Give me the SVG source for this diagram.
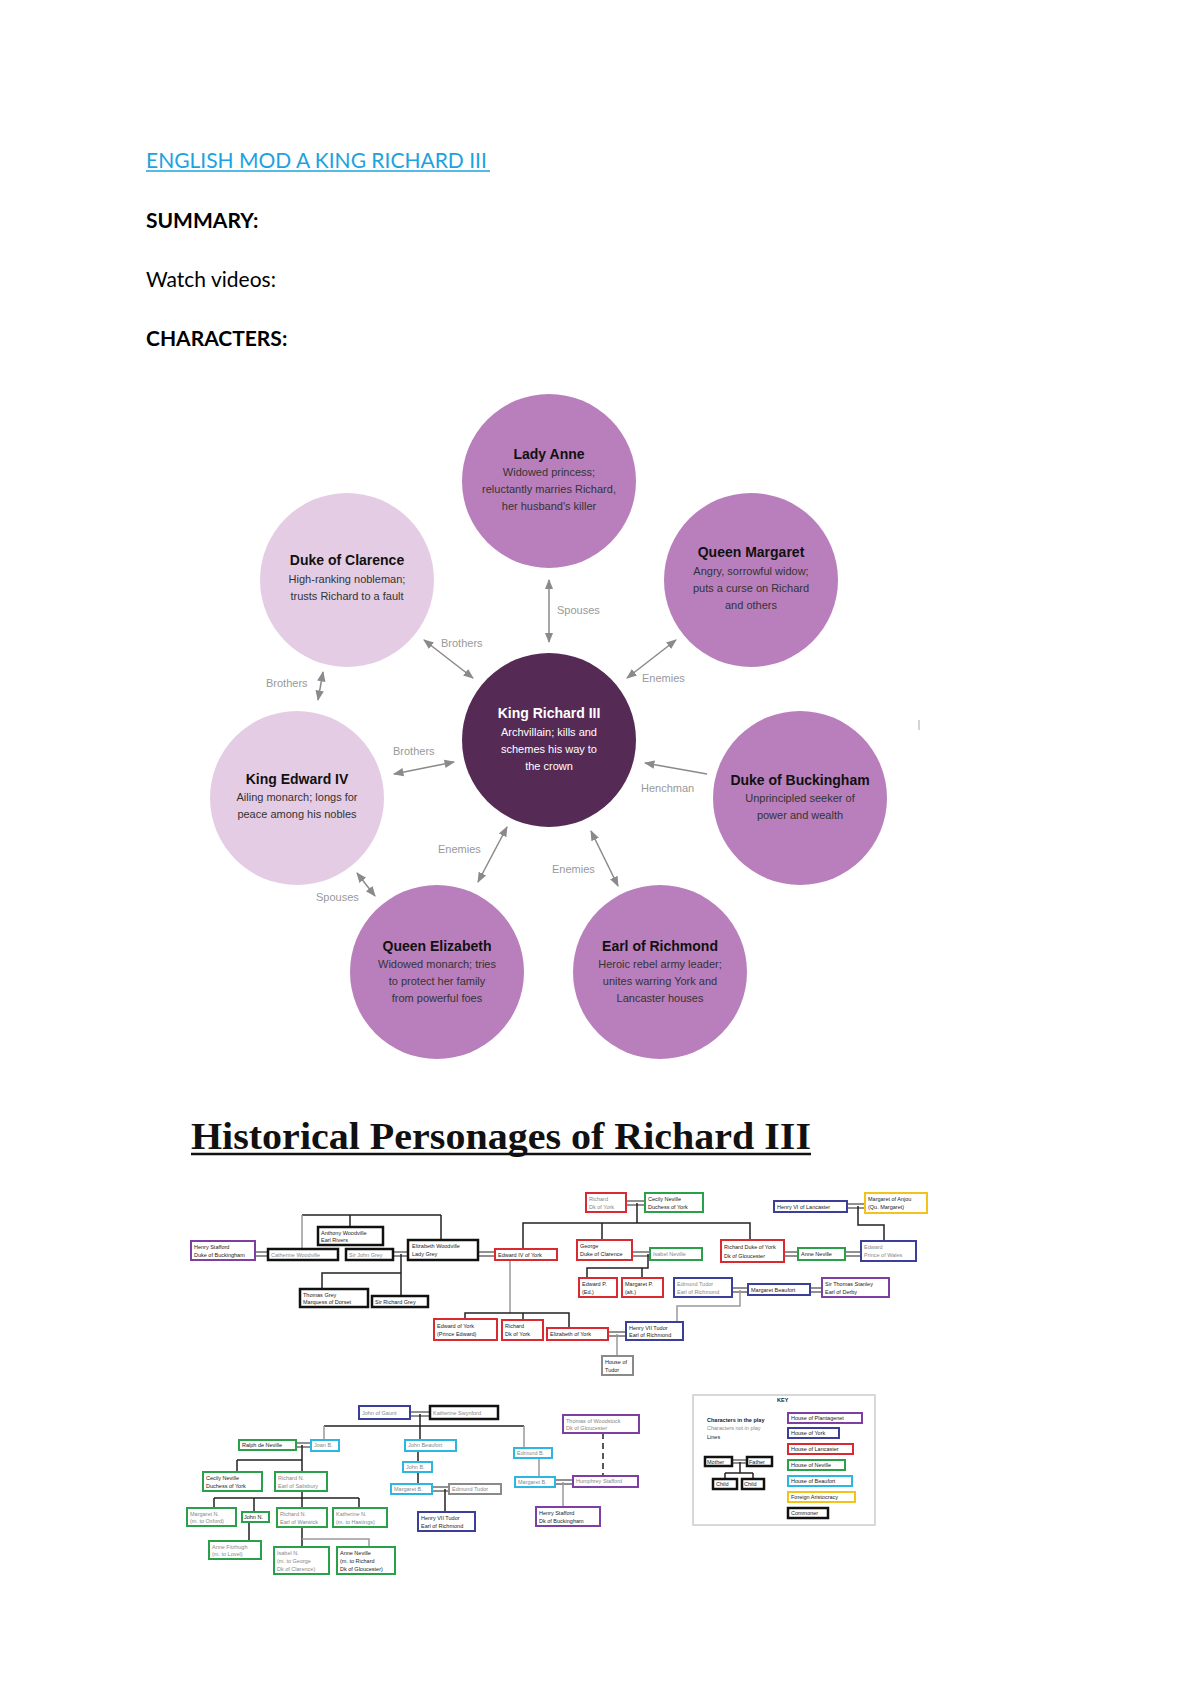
<svg xmlns="http://www.w3.org/2000/svg" width="1200" height="1696" viewBox="0 0 1200 1696">
<defs>
<marker id="ah" viewBox="0 0 10 10" refX="9" refY="5" markerWidth="7" markerHeight="7" orient="auto-start-reverse"><path d="M0,1 L10,5 L0,9 z" fill="#8a8a8a"/></marker>
<style>
.h{font-family:Lato,"Liberation Sans",sans-serif;font-size:21px;fill:#000}
.hb{font-weight:bold}
.cn{font-family:"Liberation Sans",Arial,sans-serif;font-size:14px;font-weight:bold;fill:#111;text-anchor:middle}
.cd{font-family:"Liberation Sans",Arial,sans-serif;font-size:11px;fill:#333;text-anchor:middle}
.dk .cn,.dk .cd{fill:#fff}
.lb{font-family:"Liberation Sans",Arial,sans-serif;font-size:11px;fill:#999}
.ar{stroke:#8a8a8a;stroke-width:1.5;fill:none}
.mid{fill:#b97fbc}.lt{fill:#e4cde4}.drk{fill:#552b56}
.b{fill:#fff;stroke-width:2}
.pu{stroke:#7d3fa3}.bl{stroke:#3c3f99}.rd{stroke:#da2a31}.gr{stroke:#2aa04a}.cy{stroke:#2cb6e2}.ye{stroke:#f3c31c}.bk{stroke:#111;stroke-width:2.5}.gy{stroke:#8a8a8a}
.t{font-family:"Liberation Sans",Arial,sans-serif;font-size:5.5px;fill:#222}
.tg{font-family:"Liberation Sans",Arial,sans-serif;font-size:5.5px;fill:#888}
.l{stroke:#222;stroke-width:1.5;fill:none}
.lg{stroke:#999;stroke-width:1.5;fill:none}
.dl{stroke:#222;stroke-width:1;fill:none}
</style>
</defs>
<rect width="1200" height="1696" fill="#fff"/>

<text class="h" x="146" y="168" style="fill:#1aa3e0">ENGLISH MOD A KING RICHARD III</text>
<line x1="146" y1="171" x2="490" y2="171" stroke="#1aa3e0" stroke-width="1.5"/>
<text class="h hb" x="146" y="228">SUMMARY:</text>
<text class="h" x="146" y="287">Watch videos:</text>
<text class="h hb" x="146" y="346">CHARACTERS:</text>

<g transform="translate(-4,-4)">
<g id="connectors">
<line class="ar" x1="553" y1="584" x2="553" y2="646" marker-start="url(#ah)" marker-end="url(#ah)"/>
<line class="ar" x1="428" y1="644" x2="477" y2="682" marker-start="url(#ah)" marker-end="url(#ah)"/>
<line class="ar" x1="680" y1="644" x2="631" y2="682" marker-start="url(#ah)" marker-end="url(#ah)"/>
<line class="ar" x1="327" y1="676" x2="322" y2="704" marker-start="url(#ah)" marker-end="url(#ah)"/>
<line class="ar" x1="398" y1="778" x2="458" y2="766" marker-start="url(#ah)" marker-end="url(#ah)"/>
<line class="ar" x1="711" y1="778" x2="649" y2="767" marker-end="url(#ah)"/>
<line class="ar" x1="482" y1="886" x2="511" y2="831" marker-start="url(#ah)" marker-end="url(#ah)"/>
<line class="ar" x1="595" y1="835" x2="622" y2="890" marker-start="url(#ah)" marker-end="url(#ah)"/>
<line class="ar" x1="361" y1="877" x2="379" y2="900" marker-start="url(#ah)" marker-end="url(#ah)"/>
<text class="lb" x="561" y="618">Spouses</text>
<text class="lb" x="445" y="651">Brothers</text>
<text class="lb" x="646" y="686">Enemies</text>
<text class="lb" x="270" y="691">Brothers</text>
<text class="lb" x="397" y="759">Brothers</text>
<text class="lb" x="645" y="796">Henchman</text>
<text class="lb" x="442" y="857">Enemies</text>
<text class="lb" x="556" y="877">Enemies</text>
<text class="lb" x="320" y="905">Spouses</text>
<line x1="923" y1="724" x2="923" y2="734" stroke="#aaa" stroke-width="1"/>
</g>

<g id="lady-anne"><circle class="mid" cx="553" cy="485" r="87"/><text class="cn" x="553" y="463">Lady Anne</text><text class="cd" x="553" y="480">Widowed princess;</text><text class="cd" x="553" y="497">reluctantly marries Richard,</text><text class="cd" x="553" y="514">her husband's killer</text></g>
<g id="duke-of-clarence"><circle class="lt" cx="351" cy="584" r="87"/><text class="cn" x="351" y="569">Duke of Clarence</text><text class="cd" x="351" y="587">High-ranking nobleman;</text><text class="cd" x="351" y="604">trusts Richard to a fault</text></g>
<g id="queen-margaret"><circle class="mid" cx="755" cy="584" r="87"/><text class="cn" x="755" y="561">Queen Margaret</text><text class="cd" x="755" y="579">Angry, sorrowful widow;</text><text class="cd" x="755" y="596">puts a curse on Richard</text><text class="cd" x="755" y="613">and others</text></g>
<g id="king-richard" class="dk"><circle class="drk" cx="553" cy="744" r="87"/><text class="cn" x="553" y="722">King Richard III</text><text class="cd" x="553" y="740">Archvillain; kills and</text><text class="cd" x="553" y="757">schemes his way to</text><text class="cd" x="553" y="774">the crown</text></g>
<g id="king-edward"><circle class="lt" cx="301" cy="802" r="87"/><text class="cn" x="301" y="788">King Edward IV</text><text class="cd" x="301" y="805">Ailing monarch; longs for</text><text class="cd" x="301" y="822">peace among his nobles</text></g>
<g id="duke-of-buckingham"><circle class="mid" cx="804" cy="802" r="87"/><text class="cn" x="804" y="789">Duke of Buckingham</text><text class="cd" x="804" y="806">Unprincipled seeker of</text><text class="cd" x="804" y="823">power and wealth</text></g>
<g id="queen-elizabeth"><circle class="mid" cx="441" cy="976" r="87"/><text class="cn" x="441" y="955">Queen Elizabeth</text><text class="cd" x="441" y="972">Widowed monarch; tries</text><text class="cd" x="441" y="989">to protect her family</text><text class="cd" x="441" y="1006">from powerful foes</text></g>
<g id="earl-of-richmond"><circle class="mid" cx="664" cy="976" r="87"/><text class="cn" x="664" y="955">Earl of Richmond</text><text class="cd" x="664" y="972">Heroic rebel army leader;</text><text class="cd" x="664" y="989">unites warring York and</text><text class="cd" x="664" y="1006">Lancaster houses</text></g>
</g>

<text x="191" y="1149" font-family="'Liberation Serif','Times New Roman',serif" font-weight="bold" font-size="38" fill="#111" textLength="620" lengthAdjust="spacingAndGlyphs">Historical Personages of Richard III</text>
<line x1="191" y1="1154" x2="811" y2="1154" stroke="#111" stroke-width="2.5"/>

<g id="tree-lines">
<path class="l" d="M302,1215 H441 M350,1215 V1227 M441,1215 V1240"/><path class="lg" d="M302,1215 V1249"/>
<path class="dl" d="M255,1252 H268 M255,1256 H268 M393,1252 H408 M393,1256 H408 M478,1252 H495 M478,1256 H495"/>
<path class="l" d="M401,1254 V1273 H322 V1289 M401,1273 V1296"/>
<path class="lg" d="M510,1260 V1313"/><path class="l" d="M465,1319 V1313 H569 V1328 M523,1313 V1320"/>
<path class="l" d="M523,1249 V1223 H750 V1240 M637,1203 V1223 M602,1223 V1240"/>
<path class="dl" d="M626,1201 H645 M626,1205 H645 M632,1252 H650 M632,1256 H650 M784,1252 H798 M784,1256 H798 M845,1252 H861 M845,1256 H861 M847,1204 H865 M847,1208 H865"/>
<path class="l" d="M648,1254 V1268 H587 V1278 M622,1268 H642 V1278"/>
<path class="l" d="M858,1206 V1225 H884 V1241"/>
<path class="dl" d="M732,1288 H748 M732,1292 H748 M810,1288 H822 M810,1292 H822 M608,1332 H626 M608,1336 H626"/>
<path class="lg" d="M740,1290 V1306 H677 V1322"/>
<path class="lg" d="M617,1334 V1356"/>
<path class="dl" d="M410,1412 H430 M410,1416 H430"/>
<path class="l" d="M420,1414 V1440 M324,1426 H524"/><path class="lg" d="M324,1426 V1440 M524,1426 V1448"/>
<path class="dl" d="M296,1443 H311 M296,1447 H311"/>
<path class="l" d="M302,1445 V1472 M237,1460 H302 M237,1460 V1472"/>
<path class="l" d="M302,1491 V1508 M214,1498 H359 M214,1498 V1508 M254,1498 V1512 M359,1498 V1508 M249,1522 V1541"/>
<path class="l" d="M302,1527 V1547"/><path class="lg" d="M302,1539 H369 V1547"/>
<path class="l" d="M418,1451 V1462 M418,1472 V1484"/>
<path class="dl" d="M432,1487 H449 M432,1491 H449"/>
<path class="l" d="M445,1489 V1512"/>
<path class="lg" d="M539,1458 V1477"/>
<path class="dl" d="M555,1480 H573 M555,1484 H573"/>
<path class="lg" d="M563,1482 V1507"/>
<path d="M603,1433 V1476" stroke="#222" stroke-width="1.5" stroke-dasharray="6,4"/>
</g>

<g id="n-stafford"><rect class="b pu" x="191" y="1241" width="64" height="19"/><text class="t" x="194" y="1249">Henry Stafford</text><text class="t" x="194" y="1257">Duke of Buckingham</text></g>
<g id="n-catherine"><rect class="b bk" x="268" y="1249" width="70" height="11"/><text class="tg" x="271" y="1257">Catherine Woodville</text></g>
<g id="n-anthony"><rect class="b bk" x="318" y="1227" width="65" height="18"/><text class="t" x="321" y="1235">Anthony Woodville</text><text class="t" x="321" y="1242">Earl Rivers</text></g>
<g id="n-johngrey"><rect class="b bk" x="346" y="1249" width="47" height="11"/><text class="tg" x="349" y="1257">Sir John Grey</text></g>
<g id="n-elizwood"><rect class="b bk" x="408" y="1240" width="70" height="20"/><text class="t" x="412" y="1248">Elizabeth Woodville</text><text class="t" x="412" y="1256">Lady Grey</text></g>
<g id="n-edward4"><rect class="b rd" x="495" y="1249" width="62" height="11"/><text class="t" x="498" y="1257">Edward IV of York</text></g>
<g id="n-thomasgrey"><rect class="b bk" x="300" y="1289" width="68" height="18"/><text class="t" x="303" y="1297">Thomas Grey</text><text class="t" x="303" y="1304">Marquess of Dorset</text></g>
<g id="n-richgrey"><rect class="b bk" x="372" y="1296" width="56" height="11"/><text class="t" x="375" y="1304">Sir Richard Grey</text></g>
<g id="n-ryork"><rect class="b rd" x="586" y="1193" width="40" height="19"/><text class="tg" x="589" y="1201">Richard</text><text class="tg" x="589" y="1209">Dk of York</text></g>
<g id="n-cecily"><rect class="b gr" x="645" y="1193" width="58" height="19"/><text class="t" x="648" y="1201">Cecily Neville</text><text class="t" x="648" y="1209">Duchess of York</text></g>
<g id="n-george"><rect class="b rd" x="577" y="1240" width="55" height="20"/><text class="t" x="580" y="1248">George</text><text class="t" x="580" y="1256">Duke of Clarence</text></g>
<g id="n-isabel"><rect class="b gr" x="650" y="1248" width="52" height="12"/><text class="tg" x="653" y="1256">Isabel Neville</text></g>
<g id="n-warwick"><rect class="b rd" x="579" y="1278" width="38" height="19"/><text class="t" x="582" y="1286">Edward P.</text><text class="t" x="582" y="1294">(Ed.)</text></g>
<g id="n-mpole"><rect class="b rd" x="622" y="1278" width="41" height="19"/><text class="t" x="625" y="1286">Margaret P.</text><text class="t" x="625" y="1294">(alt.)</text></g>
<g id="n-richard3"><rect class="b rd" x="721" y="1240" width="63" height="22"/><text class="t" x="724" y="1249">Richard Duke of York</text><text class="t" x="724" y="1258">Dk of Gloucester</text></g>
<g id="n-anne"><rect class="b gr" x="798" y="1248" width="47" height="12"/><text class="t" x="801" y="1256">Anne Neville</text></g>
<g id="n-epw"><rect class="b bl" x="861" y="1241" width="55" height="20"/><text class="tg" x="864" y="1249">Edward</text><text class="tg" x="864" y="1257">Prince of Wales</text></g>
<g id="n-henry6"><rect class="b bl" x="774" y="1201" width="73" height="11"/><text class="t" x="777" y="1209">Henry VI of Lancaster</text></g>
<g id="n-margaret"><rect class="b ye" x="865" y="1193" width="62" height="20"/><text class="t" x="868" y="1201">Margaret of Anjou</text><text class="t" x="868" y="1209">(Qu. Margaret)</text></g>
<g id="n-edmund"><rect class="b bl" x="674" y="1278" width="58" height="19"/><text class="tg" x="677" y="1286">Edmund Tudor</text><text class="tg" x="677" y="1294">Earl of Richmond</text></g>
<g id="n-mbeaufort"><rect class="b bl" x="748" y="1284" width="62" height="11"/><text class="t" x="751" y="1292">Margaret Beaufort</text></g>
<g id="n-stanley"><rect class="b pu" x="822" y="1278" width="67" height="19"/><text class="t" x="825" y="1286">Sir Thomas Stanley</text><text class="t" x="825" y="1294">Earl of Derby</text></g>
<g id="n-edward5"><rect class="b rd" x="434" y="1319" width="63" height="21"/><text class="t" x="437" y="1328">Edward of York</text><text class="t" x="437" y="1336">(Prince Edward)</text></g>
<g id="n-ryork2"><rect class="b rd" x="502" y="1320" width="41" height="20"/><text class="t" x="505" y="1328">Richard</text><text class="t" x="505" y="1336">Dk of York</text></g>
<g id="n-eyork"><rect class="b rd" x="547" y="1328" width="61" height="12"/><text class="t" x="550" y="1336">Elizabeth of York</text></g>
<g id="n-henry7"><rect class="b bl" x="626" y="1322" width="57" height="18"/><text class="t" x="629" y="1330">Henry VII Tudor</text><text class="t" x="629" y="1337">Earl of Richmond</text></g>
<g id="n-tudor"><rect class="b gy" x="602" y="1356" width="31" height="19"/><text class="t" x="605" y="1364">House of</text><text class="t" x="605" y="1372">Tudor</text></g>

<g id="n-gaunt"><rect class="b bl" x="359" y="1406" width="51" height="13"/><text class="tg" x="362" y="1415">John of Gaunt</text></g>
<g id="n-swynford"><rect class="b bk" x="430" y="1406" width="68" height="13"/><text class="tg" x="433" y="1415">Katherine Swynford</text></g>
<g id="n-ralph"><rect class="b gr" x="239" y="1440" width="57" height="10"/><text class="t" x="242" y="1447">Ralph de Neville</text></g>
<g id="n-joan"><rect class="b cy" x="311" y="1440" width="28" height="11"/><text class="tg" x="314" y="1447">Joan B.</text></g>
<g id="n-cecily2"><rect class="b gr" x="203" y="1472" width="59" height="19"/><text class="t" x="206" y="1480">Cecily Neville</text><text class="t" x="206" y="1488">Duchess of York</text></g>
<g id="n-salisbury"><rect class="b gr" x="275" y="1472" width="52" height="19"/><text class="tg" x="278" y="1480">Richard N.</text><text class="tg" x="278" y="1488">Earl of Salisbury</text></g>
<g id="n-margn"><rect class="b gr" x="187" y="1508" width="49" height="18"/><text class="tg" x="190" y="1516">Margaret N.</text><text class="tg" x="190" y="1523">(m. to Oxford)</text></g>
<g id="n-johnn"><rect class="b gr" x="242" y="1512" width="27" height="10"/><text class="t" x="244" y="1519">John N.</text></g>
<g id="n-warwickn"><rect class="b gr" x="277" y="1508" width="50" height="19"/><text class="tg" x="280" y="1516">Richard N.</text><text class="tg" x="280" y="1524">Earl of Warwick</text></g>
<g id="n-kathn"><rect class="b gr" x="333" y="1508" width="54" height="19"/><text class="tg" x="336" y="1516">Katherine N.</text><text class="tg" x="336" y="1524">(m. to Hastings)</text></g>
<g id="n-annel"><rect class="b gr" x="209" y="1541" width="52" height="18"/><text class="tg" x="212" y="1549">Anne Fitzhugh</text><text class="tg" x="212" y="1556">(m. to Lovel)</text></g>
<g id="n-isabeln"><rect class="b gr" x="274" y="1547" width="55" height="27"/><text class="tg" x="277" y="1555">Isabel N.</text><text class="tg" x="277" y="1563">(m. to George</text><text class="tg" x="277" y="1571">Dk of Clarence)</text></g>
<g id="n-annen"><rect class="b gr" x="337" y="1547" width="58" height="27"/><text class="t" x="340" y="1555">Anne Neville</text><text class="t" x="340" y="1563">(m. to Richard</text><text class="t" x="340" y="1571">Dk of Gloucester)</text></g>
<g id="n-johnb"><rect class="b cy" x="405" y="1440" width="51" height="11"/><text class="tg" x="408" y="1447">John Beaufort</text></g>
<g id="n-johnb2"><rect class="b cy" x="403" y="1462" width="29" height="10"/><text class="tg" x="406" y="1469">John B.</text></g>
<g id="n-margb"><rect class="b cy" x="391" y="1484" width="41" height="10"/><text class="tg" x="394" y="1491">Margaret B.</text></g>
<g id="n-edmundt"><rect class="b gy" x="449" y="1484" width="52" height="10"/><text class="tg" x="452" y="1491">Edmund Tudor</text></g>
<g id="n-henry7b"><rect class="b bl" x="418" y="1512" width="57" height="19"/><text class="t" x="421" y="1520">Henry VII Tudor</text><text class="t" x="421" y="1528">Earl of Richmond</text></g>
<g id="n-edmundb"><rect class="b cy" x="514" y="1448" width="38" height="10"/><text class="tg" x="517" y="1455">Edmund B.</text></g>
<g id="n-margb2"><rect class="b cy" x="515" y="1477" width="40" height="10"/><text class="tg" x="518" y="1484">Margaret B.</text></g>
<g id="n-humphrey"><rect class="b pu" x="573" y="1476" width="65" height="11"/><text class="tg" x="576" y="1483">Humphrey Stafford</text></g>
<g id="n-woodstock"><rect class="b pu" x="563" y="1415" width="76" height="18"/><text class="tg" x="566" y="1423">Thomas of Woodstock</text><text class="tg" x="566" y="1430">Dk of Gloucester</text></g>
<g id="n-buck"><rect class="b pu" x="536" y="1507" width="64" height="19"/><text class="t" x="539" y="1515">Henry Stafford</text><text class="t" x="539" y="1523">Dk of Buckingham</text></g>

<g id="key">
<rect x="693" y="1395" width="182" height="130" fill="#fff" stroke="#ccc" stroke-width="1.5"/>
<text class="t" x="777" y="1402" font-weight="bold">KEY</text>
<text class="t" x="707" y="1422" font-weight="bold">Characters in the play</text>
<text class="tg" x="707" y="1430">Characters not in play</text>
<text class="t" x="707" y="1439">Lines</text>
<rect class="b bk" x="705" y="1457" width="27" height="9"/><text class="t" x="707" y="1464">Mother</text>
<rect class="b bk" x="747" y="1457" width="25" height="9"/><text class="t" x="749" y="1464">Father</text>
<path class="dl" d="M732,1460 H747 M732,1463 H747"/>
<path class="l" d="M740,1462 V1473 M725,1473 H753 M725,1473 V1479 M753,1473 V1479"/>
<rect class="b bk" x="713" y="1479" width="24" height="10"/><text class="t" x="716" y="1486">Child</text>
<rect class="b bk" x="742" y="1479" width="22" height="10"/><text class="t" x="744" y="1486">Child</text>
<rect class="b pu" x="788" y="1413" width="74" height="10"/><text class="t" x="791" y="1420">House of Plantagenet</text>
<rect class="b bl" x="788" y="1428" width="51" height="10"/><text class="t" x="791" y="1435">House of York</text>
<rect class="b rd" x="788" y="1444" width="65" height="10"/><text class="t" x="791" y="1451">House of Lancaster</text>
<rect class="b gr" x="788" y="1460" width="57" height="10"/><text class="t" x="791" y="1467">House of Neville</text>
<rect class="b cy" x="788" y="1476" width="64" height="10"/><text class="t" x="791" y="1483">House of Beaufort</text>
<rect class="b ye" x="788" y="1492" width="67" height="10"/><text class="t" x="791" y="1499">Foreign Aristocracy</text>
<rect class="b bk" x="788" y="1508" width="40" height="10"/><text class="t" x="791" y="1515">Commoner</text>
</g>
</svg>
